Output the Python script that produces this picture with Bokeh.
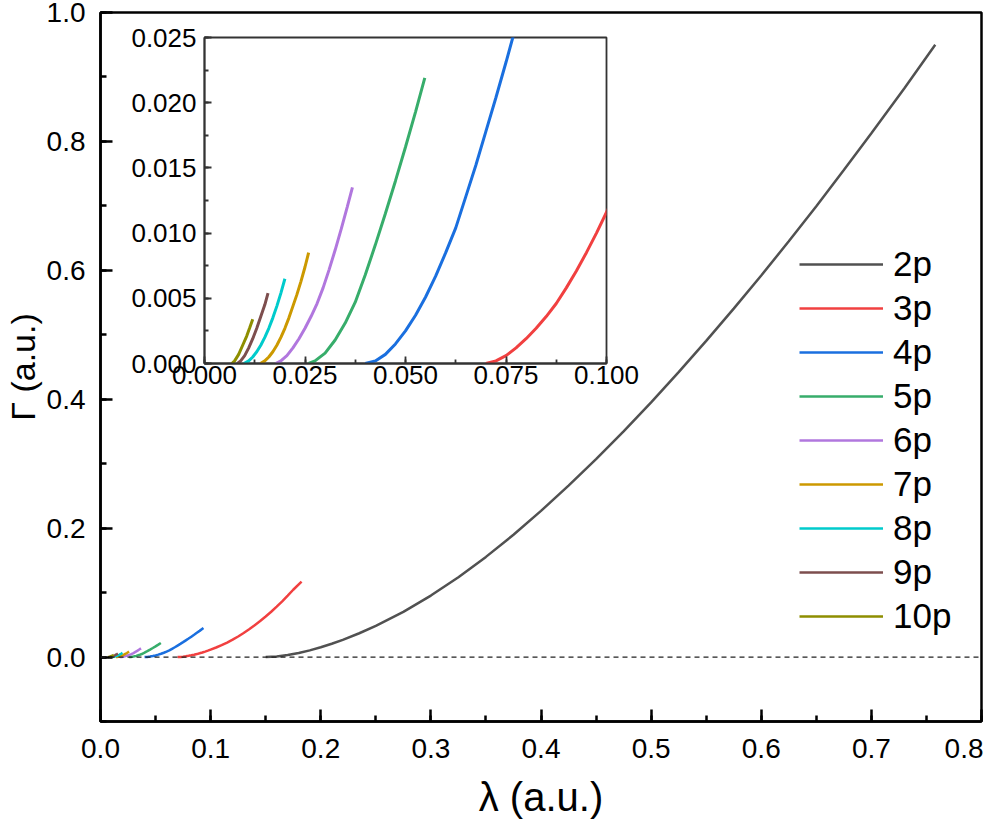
import numpy as np
from bokeh.plotting import figure
from bokeh.models import (Range1d, SingleIntervalTicker, NumeralTickFormatter,
                          Span, Legend, LegendItem)
from bokeh.layouts import column
from bokeh.embed import file_html
from bokeh.resources import INLINE

# ---- data: decay width Gamma versus coupling lambda for each np state ----
series_names = ["2p", "3p", "4p", "5p", "6p", "7p", "8p", "9p", "10p"]
series_colors = ["#515151", "#F14040", "#1A6FDF", "#37AD6B", "#B177DE",
                 "#CC9900", "#00CBCC", "#7D4E4E", "#8E8E00"]

lam_2p = [0.150, 0.160, 0.170, 0.180, 0.190, 0.200, 0.210, 0.220, 0.235, 0.250,
          0.275, 0.300, 0.325, 0.350, 0.375, 0.400, 0.425, 0.450, 0.475, 0.500,
          0.525, 0.550, 0.575, 0.600, 0.625, 0.650, 0.675, 0.700, 0.730, 0.758]
gam_2p = [0.0000, 0.0009, 0.0031, 0.0063, 0.0103, 0.0151, 0.0206, 0.0267, 0.0369, 0.0483,
          0.0701, 0.0954, 0.1239, 0.1554, 0.1897, 0.2268, 0.2660, 0.3070, 0.3500, 0.3950,
          0.4420, 0.4905, 0.5405, 0.5920, 0.6450, 0.6995, 0.7555, 0.8125, 0.8825, 0.9500]

lam_3p = [0.0700, 0.0725, 0.0750, 0.0775, 0.0800, 0.0825, 0.0850, 0.0875, 0.0900,
          0.0925, 0.0950, 0.0975, 0.1000, 0.1050, 0.1100, 0.1150, 0.1200, 0.1250,
          0.1300, 0.1350, 0.1400, 0.1450, 0.1500, 0.1550, 0.1600, 0.1650, 0.1700,
          0.1750, 0.1826]
gam_3p = [0.0000, 0.0002, 0.0006, 0.0012, 0.0019, 0.0027, 0.0036, 0.0046, 0.0058,
          0.0071, 0.0085, 0.0100, 0.0116, 0.0148, 0.0185, 0.0225, 0.0270, 0.0319,
          0.0373, 0.0430, 0.0492, 0.0558, 0.0629, 0.0703, 0.0782, 0.0865, 0.0953,
          0.1044, 0.1170]

lam_4p = [0.0400, 0.0425, 0.0450, 0.0475, 0.0500, 0.0525, 0.0550, 0.0575, 0.0600,
          0.0625, 0.0650, 0.0675, 0.0700, 0.0725, 0.0750, 0.0775, 0.0800, 0.0825,
          0.0850, 0.0875, 0.0900, 0.0935]
gam_4p = [0.0000, 0.0002, 0.0007, 0.0015, 0.0025, 0.0037, 0.0051, 0.0067, 0.0085,
          0.0104, 0.0128, 0.0152, 0.0178, 0.0204, 0.0231, 0.0259, 0.0287, 0.0316,
          0.0345, 0.0376, 0.0406, 0.0450]

lam_5p = [0.0259, 0.0275, 0.0300, 0.0325, 0.0350, 0.0375, 0.0400, 0.0425, 0.0450,
          0.0475, 0.0500, 0.0525, 0.0548]
gam_5p = [0.0000, 0.0002, 0.0008, 0.0018, 0.0031, 0.0047, 0.0068, 0.0091, 0.0115,
          0.0140, 0.0166, 0.0193, 0.0219]

lam_6p = [0.0177, 0.0190, 0.0205, 0.0220, 0.0235, 0.0250, 0.0265, 0.0280, 0.0295,
          0.0310, 0.0325, 0.0340, 0.0355, 0.0368]
gam_6p = [0.0000, 0.0002, 0.0006, 0.0012, 0.0019, 0.0027, 0.0036, 0.0046, 0.0058,
          0.0072, 0.0087, 0.0103, 0.0120, 0.0135]

lam_7p = [0.0139, 0.0150, 0.0160, 0.0170, 0.0180, 0.0190, 0.0200, 0.0210, 0.0220,
          0.0230, 0.0240, 0.0250, 0.0259]
gam_7p = [0.0000, 0.0002, 0.0005, 0.0009, 0.0014, 0.0020, 0.0027, 0.0035, 0.0044,
          0.0053, 0.0063, 0.0074, 0.0085]

lam_8p = [0.0098, 0.0110, 0.0120, 0.0130, 0.0140, 0.0150, 0.0160, 0.0170, 0.0180,
          0.0190, 0.0200]
gam_8p = [0.0000, 0.0002, 0.0005, 0.0009, 0.0014, 0.0020, 0.0027, 0.0035, 0.0044,
          0.0054, 0.0065]

lam_9p = [0.0082, 0.0090, 0.0100, 0.0110, 0.0120, 0.0130, 0.0140, 0.0150, 0.0158]
gam_9p = [0.0000, 0.0002, 0.0006, 0.0012, 0.0019, 0.0027, 0.0036, 0.0045, 0.0054]

lam_10p = [0.0068, 0.0075, 0.0085, 0.0095, 0.0105, 0.0112, 0.0120]
gam_10p = [0.0000, 0.0002, 0.0007, 0.0014, 0.0021, 0.0027, 0.0034]

curves = [(lam_2p, gam_2p), (lam_3p, gam_3p), (lam_4p, gam_4p), (lam_5p, gam_5p),
          (lam_6p, gam_6p), (lam_7p, gam_7p), (lam_8p, gam_8p), (lam_9p, gam_9p),
          (lam_10p, gam_10p)]

FONT = "Liberation Sans"


def style_axes(fig, tick_size, major_in, minor_in, width, color):
    for ax in (fig.xaxis[0], fig.yaxis[0]):
        ax.axis_line_color = color
        ax.axis_line_width = width
        ax.major_tick_line_color = color
        ax.minor_tick_line_color = color
        ax.major_tick_line_width = width
        ax.minor_tick_line_width = width
        ax.major_tick_in = major_in
        ax.major_tick_out = 0
        ax.minor_tick_in = minor_in
        ax.minor_tick_out = 0
        ax.major_label_text_font = FONT
        ax.major_label_text_font_size = tick_size
        ax.major_label_text_color = "black"
        ax.axis_label_text_font = FONT
        ax.axis_label_text_font_style = "normal"
        ax.axis_label_text_color = "black"


def pin(fig, left, top):
    fig.styles = {"position": "absolute", "left": f"{left}px", "top": f"{top}px"}


# ---- main panel (fixed frame size so the borders cannot squeeze it) ----
p = figure(frame_width=881, frame_height=709,
           x_range=Range1d(0, 0.8), y_range=Range1d(-0.1, 1.0),
           output_backend="svg", toolbar_location=None,
           min_border_left=99, min_border_right=2,
           min_border_top=12, min_border_bottom=107)
p.grid.visible = False
p.outline_line_color = "black"
p.outline_line_width = 2.5
p.background_fill_color = "white"

p.xaxis.ticker = SingleIntervalTicker(interval=0.1, num_minor_ticks=2)
p.yaxis.ticker = SingleIntervalTicker(interval=0.2, num_minor_ticks=2)
p.xaxis.formatter = NumeralTickFormatter(format="0.0")
p.yaxis.formatter = NumeralTickFormatter(format="0.0")
style_axes(p, "28px", 12, 6, 2.5, "black")
p.xaxis.major_label_standoff = 17
p.yaxis.major_label_standoff = 15

p.xaxis.axis_label = "λ (a.u.)"
p.xaxis.axis_label_text_font_size = "40px"
p.xaxis.axis_label_standoff = 14

p.yaxis.axis_label = "Γ (a.u.)"
p.yaxis.axis_label_text_font_size = "34px"
p.yaxis.axis_label_standoff = 2

p.add_layout(Span(location=0, dimension="width", line_color="#222222",
                  line_width=1.2, line_dash="5 4"))

items = []
for name, color, (lx, gy) in zip(series_names, series_colors, curves):
    r = p.line(lx, gy, line_color=color, line_width=2.5)
    items.append(LegendItem(label=name, renderers=[r]))

legend = Legend(items=items, location=(699, 85),
                glyph_width=84, glyph_height=30, label_height=30,
                spacing=4, padding=0, margin=0, label_standoff=10,
                label_text_font=FONT, label_text_font_size="35px",
                label_text_color="black",
                border_line_alpha=0, background_fill_alpha=0)
p.add_layout(legend)
pin(p, 0, 0)

# ---- zoomed inset near threshold ----
inset = figure(width=542, height=386,
               x_range=Range1d(0, 0.1), y_range=Range1d(0, 0.025),
               output_backend="svg", toolbar_location=None,
               min_border_left=98, min_border_right=40,
               min_border_top=20, min_border_bottom=40)
inset.grid.visible = False
inset.outline_line_color = "#333333"
inset.outline_line_width = 1.8
inset.background_fill_color = "white"
inset.border_fill_alpha = 0
inset.xaxis.ticker = SingleIntervalTicker(interval=0.025, num_minor_ticks=2)
inset.yaxis.ticker = SingleIntervalTicker(interval=0.005, num_minor_ticks=2)
inset.xaxis.formatter = NumeralTickFormatter(format="0.000")
inset.yaxis.formatter = NumeralTickFormatter(format="0.000")
style_axes(inset, "26px", 7, 4, 1.8, "#333333")
inset.xaxis.major_label_standoff = 2
inset.yaxis.major_label_standoff = 8

for color, (lx, gy) in zip(series_colors[1:], curves[1:]):
    inset.line(lx, gy, line_color=color, line_width=3)
pin(inset, 104, 17)

layout = column(p, inset, width=1000, height=828, sizing_mode="fixed")
layout.styles = {"position": "absolute", "left": "0px", "top": "0px"}
open("out.html", "w").write(file_html(layout, INLINE))
